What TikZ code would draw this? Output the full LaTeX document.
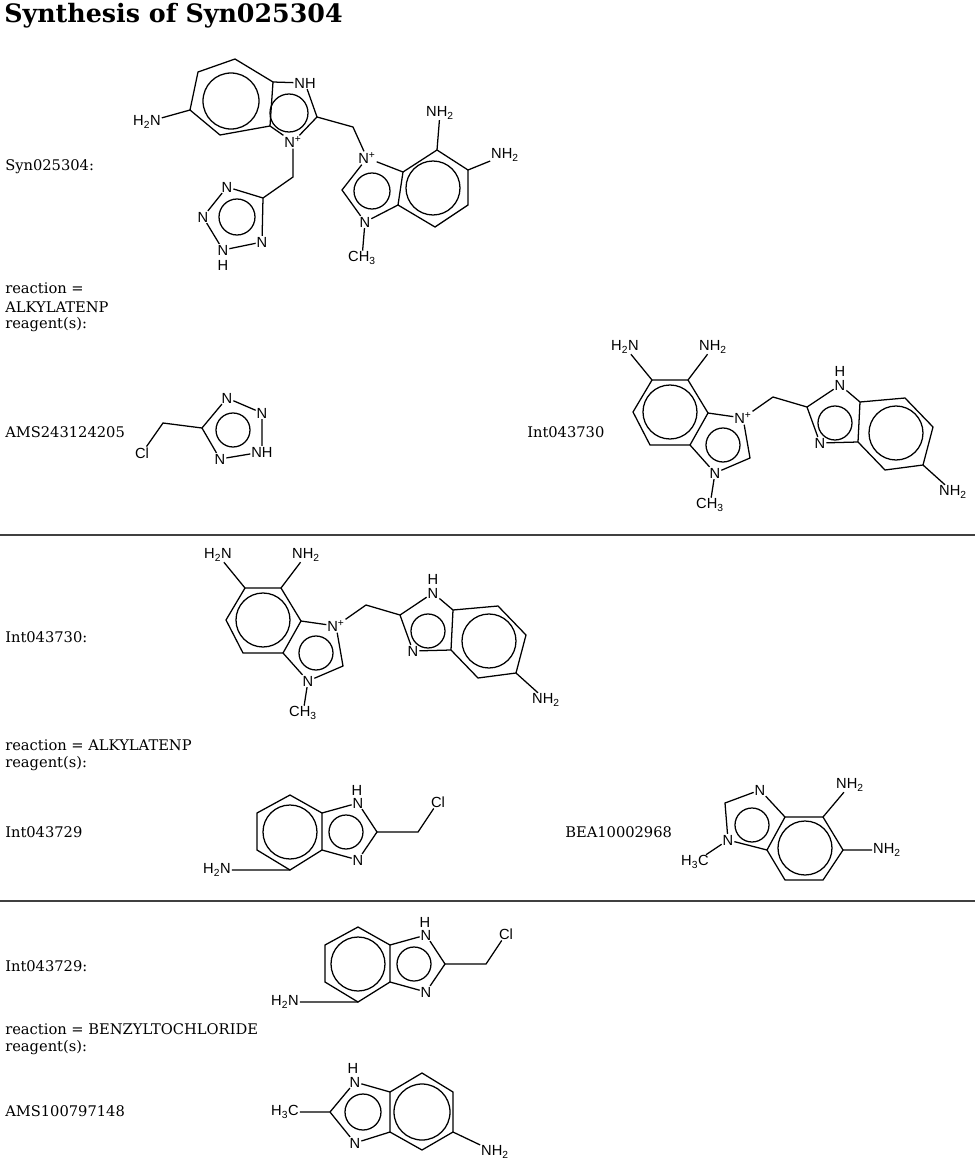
\documentclass[tikz,border=0pt]{standalone}
\usepackage{fontspec}
\setmainfont{DejaVu Serif}
\newfontfamily\atomf{Liberation Sans}
\tikzset{
  bd/.style={line width=0.95pt},
  atm/.style={font=\atomf\fontsize{11}{12}\selectfont, inner sep=0.6pt},
  lbl/.style={anchor=west, font=\fontsize{11}{13}\selectfont, inner sep=0pt},
  sep/.style={draw=black!75, line width=0.9pt}
}
\newcommand\molIntA{%
  \coordinate (b1) at (652,380); \coordinate (b2) at (688,380);
  \coordinate (b3) at (708,413); \coordinate (b4) at (690,445);
  \coordinate (b5) at (650,445); \coordinate (b6) at (633,412);
  \node[atm] (h2na) at (625,347) {H\textsubscript{2}N};
  \node[atm] (nh2a) at (713,347) {NH\textsubscript{2}};
  \node[atm] (np) at (743,418) {N\textsuperscript{+}};
  \coordinate (ch) at (750,458);
  \node[atm] (nm) at (715,473) {N};
  \node[atm] (me) at (710,505) {CH\textsubscript{3}};
  \coordinate (cc) at (773,397); \coordinate (c2) at (807,407);
  \node[atm] (nh) at (840,385) {N};
  \node[atm] (hh) at (840,371) {H};
  \node[atm] (n2) at (820,443) {N};
  \coordinate (c7) at (860,402); \coordinate (c3) at (858,442);
  \coordinate (d1) at (905,398); \coordinate (d2) at (933,427);
  \coordinate (d3) at (923,465); \coordinate (d4) at (885,470);
  \node[atm] (nh2b) at (953,492) {NH\textsubscript{2}};
  \draw[bd] (b1)--(b2)--(b3)--(b4)--(b5)--(b6)--cycle;
  \draw[bd] (b1)--(h2na) (b2)--(nh2a) (b3)--(np)--(ch)--(nm)--(b4) (nm)--(me);
  \draw[bd] (np)--(cc)--(c2)--(nh)--(c7) (c2)--(n2)--(c3) (c7)--(c3);
  \draw[bd] (c7)--(d1)--(d2)--(d3)--(d4)--(c3) (d3)--(nh2b);
  \draw[bd] (670,412) circle (27) (723,445) circle (17) (835,423) circle (17) (896,433) circle (27);
}
\newcommand\molIntB{%
  \node[atm] (hb) at (357,790) {H};
  \node[atm] (nb) at (358,803) {N};
  \coordinate (e7) at (322,813); \coordinate (e1) at (290,795);
  \coordinate (e2) at (257,813); \coordinate (e3) at (257,850);
  \coordinate (e4) at (290,870); \coordinate (e3a) at (322,850);
  \node[atm] (nl) at (358,860) {N};
  \coordinate (ec2) at (377,832); \coordinate (ech) at (418,832);
  \node[atm] (cl) at (438,802) {Cl};
  \node[atm] (h2n) at (217,870) {H\textsubscript{2}N};
  \draw[bd] (e7)--(e1)--(e2)--(e3)--(e4)--(e3a)--cycle;
  \draw[bd] (e7)--(nb)--(ec2)--(nl)--(e3a) (ec2)--(ech)--(cl) (e4)--(h2n);
  \draw[bd] (290,832) circle (27) (346,832) circle (17);
}
\begin{document}
\begin{tikzpicture}[x=0.75pt,y=-0.75pt]
\useasboundingbox (0,0) rectangle (975,1161);
% title and labels
\node[anchor=west, inner sep=0pt, font=\bfseries\fontsize{19}{22}\selectfont] (title) at (4,16) {Synthesis of Syn025304};
\node[lbl] (t1) at (5,167) {Syn025304:};
\node[lbl] (t2) at (5,288) {reaction =};
\node[lbl] (t3) at (5,307) {ALKYLATENP};
\node[lbl] (t4) at (5,325) {reagent(s):};
\node[lbl] (t5) at (5,432) {AMS243124205};
\node[lbl] (t6) at (527,432) {Int043730};
\node[lbl] (t7) at (5,637) {Int043730:};
\node[lbl] (t8) at (5,745) {reaction = ALKYLATENP};
\node[lbl] (t9) at (5,764) {reagent(s):};
\node[lbl] (t10) at (5,832) {Int043729};
\node[lbl] (t11) at (565,832) {BEA10002968};
\node[lbl] (t12) at (5,966) {Int043729:};
\node[lbl] (t13) at (5,1029) {reaction = BENZYLTOCHLORIDE};
\node[lbl] (t14) at (5,1048) {reagent(s):};
\node[lbl] (t15) at (5,1111) {AMS100797148};
\coordinate (s1a) at (0,535); \coordinate (s1b) at (975,535);
\coordinate (s2a) at (0,901); \coordinate (s2b) at (975,901);
\draw[sep] (s1a)--(s1b) (s2a)--(s2b);
% ---- Syn025304
\begin{scope}[name prefix=m1-]
\coordinate (a1) at (235,59); \coordinate (a2) at (273,82);
\coordinate (a3) at (270,126); \coordinate (a4) at (220,135);
\coordinate (a5) at (190,110); \coordinate (a6) at (198,72);
\node[atm] (h2n) at (147,122) {H\textsubscript{2}N};
\node[atm] (nh) at (305,83) {NH};
\coordinate (c2) at (317,117);
\node[atm] (np) at (293,142) {N\textsuperscript{+}};
\coordinate (cr) at (353,127);
\node[atm] (np2) at (367,158) {N\textsuperscript{+}};
\coordinate (cd) at (293,177);
\coordinate (t5) at (263,198);
\node[atm] (tn1) at (227,187) {N};
\node[atm] (tn2) at (203,217) {N};
\node[atm] (tn3) at (223,250) {N};
\node[atm] (tn3h) at (223,265) {H};
\node[atm] (tn4) at (262,242) {N};
\coordinate (ch) at (342,190);
\node[atm] (nm) at (365,222) {N};
\node[atm] (me) at (362,258) {CH\textsubscript{3}};
\coordinate (f1) at (403,172); \coordinate (f2) at (437,150);
\coordinate (f3) at (468,170); \coordinate (f4) at (468,205);
\coordinate (f5) at (435,227); \coordinate (f6) at (398,205);
\node[atm] (nh2a) at (440,113) {NH\textsubscript{2}};
\node[atm] (nh2b) at (505,155) {NH\textsubscript{2}};
\draw[bd] (a1)--(a2)--(a3)--(a4)--(a5)--(a6)--cycle;
\draw[bd] (a5)--(h2n) (a2)--(nh)--(c2)--(np)--(a3);
\draw[bd] (c2)--(cr)--(np2) (np)--(cd)--(t5);
\draw[bd] (t5)--(tn1)--(tn2)--(tn3)--(tn4)--(t5);
\draw[bd] (np2)--(ch)--(nm)--(f6) (np2)--(f1) (nm)--(me);
\draw[bd] (f1)--(f2)--(f3)--(f4)--(f5)--(f6)--cycle;
\draw[bd] (f2)--(nh2a) (f3)--(nh2b);
\draw[bd] (231,101) circle (28) (289,113) circle (19) (237,217) circle (18)
  (372,191) circle (18) (433,188) circle (27);
\end{scope}
% ---- AMS243124205
\begin{scope}[name prefix=m2-]
\node[atm] (cl) at (142,453) {Cl};
\coordinate (ch) at (163,423); \coordinate (c5) at (202,428);
\node[atm] (n1) at (227,398) {N};
\node[atm] (n2) at (262,413) {N};
\node[atm] (n3) at (262,452) {NH};
\node[atm] (n4) at (220,459) {N};
\draw[bd] (cl)--(ch)--(c5)--(n1)--(n2)--(n3)--(n4)--(c5);
\draw[bd] (233,430) circle (17);
\end{scope}
% ---- Int043730 reagent
\begin{scope}[name prefix=m3-]\molIntA\end{scope}
% ---- Int043730 product
\begin{scope}[name prefix=m4-, shift={(-407,208)}]\molIntA\end{scope}
% ---- Int043729 reagent
\begin{scope}[name prefix=m5-]\molIntB\end{scope}
% ---- Int043729 product
\begin{scope}[name prefix=m6-, shift={(68,132)}]\molIntB\end{scope}
% ---- BEA10002968
\begin{scope}[name prefix=m7-]
\node[atm] (nt) at (760,790) {N};
\coordinate (ch) at (725,803);
\node[atm] (nl) at (728,840) {N};
\node[atm] (me) at (695,862) {H\textsubscript{3}C};
\coordinate (g1) at (785,817); \coordinate (g2) at (823,817);
\coordinate (g3) at (843,850); \coordinate (g4) at (823,880);
\coordinate (g5) at (785,880); \coordinate (g6) at (767,850);
\node[atm] (nh2a) at (850,785) {NH\textsubscript{2}};
\node[atm] (nh2b) at (887,850) {NH\textsubscript{2}};
\draw[bd] (g1)--(g2)--(g3)--(g4)--(g5)--(g6)--cycle;
\draw[bd] (g1)--(nt)--(ch)--(nl)--(g6) (nl)--(me) (g2)--(nh2a) (g3)--(nh2b);
\draw[bd] (805,848) circle (27) (752,825) circle (17);
\end{scope}
% ---- AMS100797148
\begin{scope}[name prefix=m8-]
\node[atm] (h) at (353,1068) {H};
\node[atm] (nh) at (355,1082) {N};
\coordinate (c2) at (330,1112);
\node[atm] (me) at (285,1112) {H\textsubscript{3}C};
\node[atm] (nl) at (355,1143) {N};
\coordinate (c7) at (390,1092); \coordinate (c3) at (390,1132);
\coordinate (k1) at (422,1073); \coordinate (k2) at (453,1092);
\coordinate (k3) at (453,1132); \coordinate (k4) at (422,1150);
\node[atm] (nh2) at (495,1152) {NH\textsubscript{2}};
\draw[bd] (c7)--(k1)--(k2)--(k3)--(k4)--(c3)--cycle;
\draw[bd] (c7)--(nh)--(c2)--(nl)--(c3) (c2)--(me) (k3)--(nh2);
\draw[bd] (422,1112) circle (28) (363,1112) circle (18);
\end{scope}
\end{tikzpicture}
\end{document}
